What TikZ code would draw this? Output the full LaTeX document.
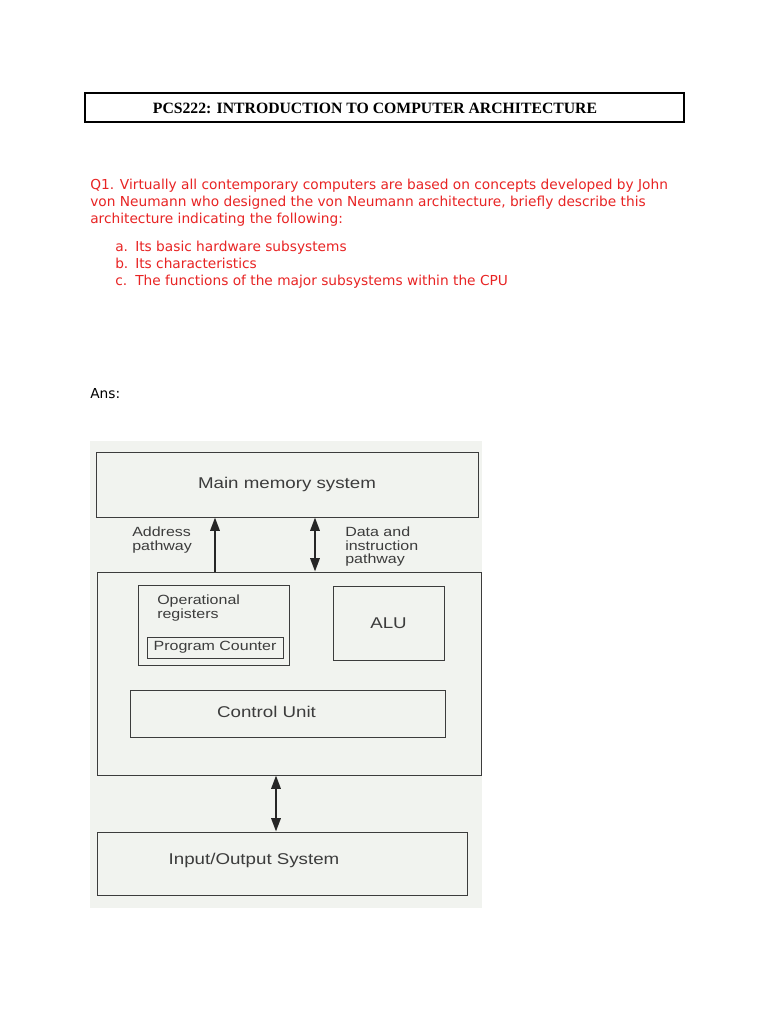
\documentclass[tikz,border=0pt]{standalone}
\usepackage{fontspec}
\setmainfont{DejaVu Sans}
\newfontfamily\headfont{Liberation Serif}
\newfontfamily\scanfont[FakeStretch=1.2]{Liberation Sans}
\usetikzlibrary{arrows.meta,positioning}
\definecolor{qred}{RGB}{232,36,36}
\definecolor{scan}{RGB}{241,243,239}
\definecolor{ink}{RGB}{60,60,60}

\begin{document}
\begin{tikzpicture}[x=0.75pt,y=-0.75pt,
  box/.style={draw=ink,line width=0.7pt,inner sep=0pt},
  scantext/.style={text=ink,font=\scanfont\fontsize{10}{12}\selectfont,align=left},
  bigtext/.style={text=ink,font=\scanfont\fontsize{11.7}{14}\selectfont},
  qtext/.style={text=qred,font=\fontsize{10.3}{12.5}\selectfont,anchor=base west,inner sep=0pt},
  bus/.style={draw=black!85,line width=1.6pt,-{Triangle[length=10pt,width=7pt]}},
  bibus/.style={bus,{Triangle[length=10pt,width=7pt]}-{Triangle[length=10pt,width=7pt]}}]
\useasboundingbox (0,0) rectangle (768,1024);
\fill[white] (0,0) rectangle (768,1024);

% header
\node[draw,line width=0.8pt,minimum width=449.25pt,minimum height=21.75pt] (title) at (384.5,107.5) {};
\node[font=\headfont\bfseries\fontsize{11.8}{14}\selectfont] (titletxt) at (375,108.5)
  {PCS222: INTRODUCTION TO COMPUTER ARCHITECTURE};

% question
\node[qtext] (q1) at (90,189) {Q1. Virtually all contemporary computers are based on concepts developed by John};
\node[qtext] (q2) at (90,206) {von Neumann who designed the von Neumann architecture, briefly describe this};
\node[qtext] (q3) at (90,223) {architecture indicating the following:};
\node[qtext] (ia) at (115,251) {a.};
\node[qtext] (ib) at (115,268) {b.};
\node[qtext] (ic) at (115,285) {c.};
\node[qtext] (ta) at (135,251) {Its basic hardware subsystems};
\node[qtext] (tb) at (135,268) {Its characteristics};
\node[qtext] (tc) at (135,285) {The functions of the major subsystems within the CPU};
\node[qtext,text=black] (ans) at (90,398) {Ans:};

% scanned figure
\fill[scan] (90,441) rectangle (482,908);
\node[box,minimum width=286.5pt,minimum height=48.75pt,bigtext] (mem) at (287,484.5) {Main memory system};
\node[box,minimum width=288pt,minimum height=152.25pt] (cpu) at (289,673.5) {};
\node[box,minimum width=113.25pt,minimum height=60pt] (regs) at (213.5,625) {};
\node[scantext,anchor=north west,inner sep=0pt] (regtxt) at (157,595) {Operational\\[-2pt]registers};
\node[box,minimum width=102pt,minimum height=15.75pt,scantext] (pc) at (215,647.5) {Program Counter};
\node[box,minimum width=83.25pt,minimum height=55.5pt,bigtext] (alu) at (388.5,623) {ALU};
\node[box,minimum width=236.25pt,minimum height=35.25pt] (cu) at (287.5,713.5) {};
\node[bigtext] (cutxt) at (266.5,712) {Control Unit};
\node[box,minimum width=277.5pt,minimum height=47.25pt] (io) at (282,863.5) {};
\node[bigtext] (iotxt) at (254,860) {Input/Output System};

% pathways
\coordinate (addrx) at (215,0);
\coordinate (datax) at (315,0);
\coordinate (iox) at (276,0);
\draw[bus] (cpu.north -| addrx) -- (mem.south -| addrx);
\draw[bibus] (cpu.north -| datax) -- (mem.south -| datax);
\draw[bibus] (io.north -| iox) -- (cpu.south -| iox);
\node[scantext,anchor=north west,inner sep=0pt] (addrtxt) at (132,527) {Address\\[-2pt]pathway};
\node[scantext,anchor=north west,inner sep=0pt] (datatxt) at (345,527) {Data and\\[-2pt]instruction\\[-2pt]pathway};
\end{tikzpicture}
\end{document}
